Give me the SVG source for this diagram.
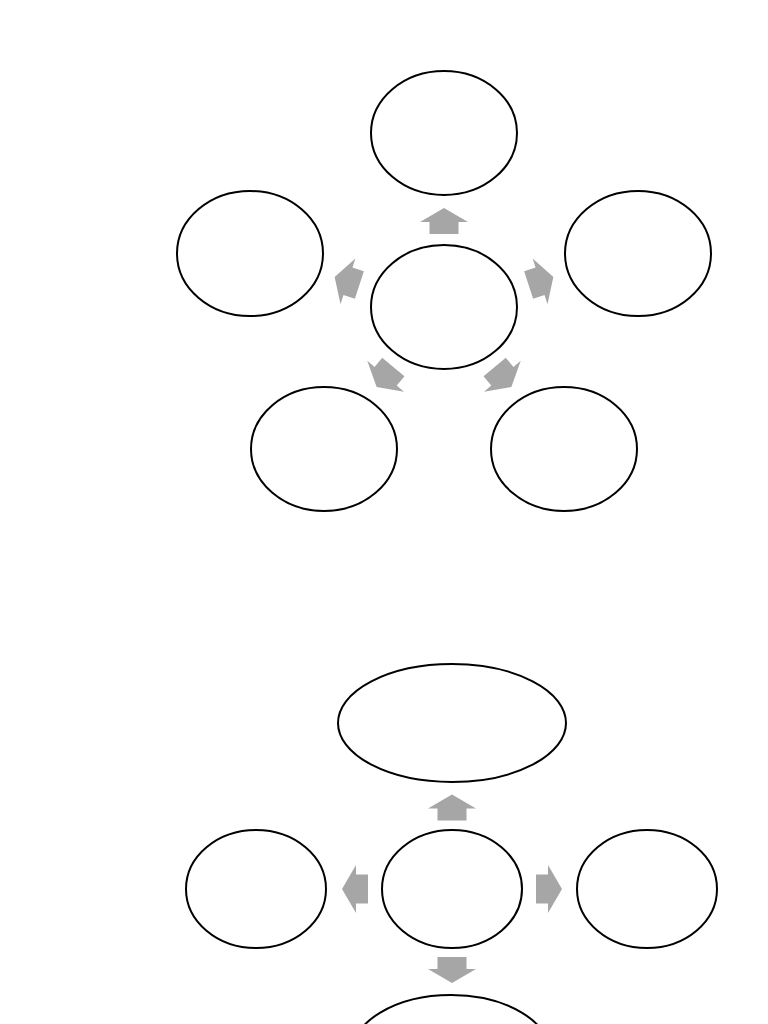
<svg xmlns="http://www.w3.org/2000/svg" xmlns:xlink="http://www.w3.org/1999/xlink" width="768" height="1024" viewBox="0 0 768 1024">
<style>
.node{fill:#ffffff;stroke:#000000;stroke-width:2}
.arr{fill:#a6a6a6;stroke:none}
</style>
<defs>
<polygon id="arrowUp" class="arr" points="0,-13 24,1 14.5,1 14.5,13 -14.5,13 -14.5,1 -24,1"/>
</defs>
<rect width="768" height="1024" fill="#ffffff"/>
<g id="connectors">
<use xlink:href="#arrowUp" transform="translate(444,221)"/>
<use xlink:href="#arrowUp" transform="translate(347,281) rotate(-72)"/>
<use xlink:href="#arrowUp" transform="translate(541,281) rotate(72)"/>
<use xlink:href="#arrowUp" transform="translate(385,377) rotate(-140)"/>
<use xlink:href="#arrowUp" transform="translate(503,377) rotate(140)"/>
<use xlink:href="#arrowUp" transform="translate(452,807.5)"/>
<use xlink:href="#arrowUp" transform="translate(355,889) rotate(-90)"/>
<use xlink:href="#arrowUp" transform="translate(549,889) rotate(90)"/>
<use xlink:href="#arrowUp" transform="translate(452,970) rotate(180)"/>
</g>
<g id="t-top"><ellipse class="node" cx="444" cy="133" rx="73" ry="62"/></g>
<g id="t-center"><ellipse class="node" cx="444" cy="307" rx="73" ry="62"/></g>
<g id="t-left"><ellipse class="node" cx="250" cy="253.5" rx="73" ry="62.5"/></g>
<g id="t-right"><ellipse class="node" cx="638" cy="253.5" rx="73" ry="62.5"/></g>
<g id="t-bottom-left"><ellipse class="node" cx="324" cy="449" rx="73" ry="62"/></g>
<g id="t-bottom-right"><ellipse class="node" cx="564" cy="449" rx="73" ry="62"/></g>
<g id="b-top"><ellipse class="node" cx="452" cy="723" rx="114" ry="59"/></g>
<g id="b-center"><ellipse class="node" cx="452" cy="889" rx="70" ry="59"/></g>
<g id="b-left"><ellipse class="node" cx="256" cy="889" rx="70" ry="59"/></g>
<g id="b-right"><ellipse class="node" cx="647" cy="889" rx="70" ry="59"/></g>
<g id="b-bottom"><ellipse class="node" cx="451" cy="1055" rx="100" ry="60"/></g>
</svg>
